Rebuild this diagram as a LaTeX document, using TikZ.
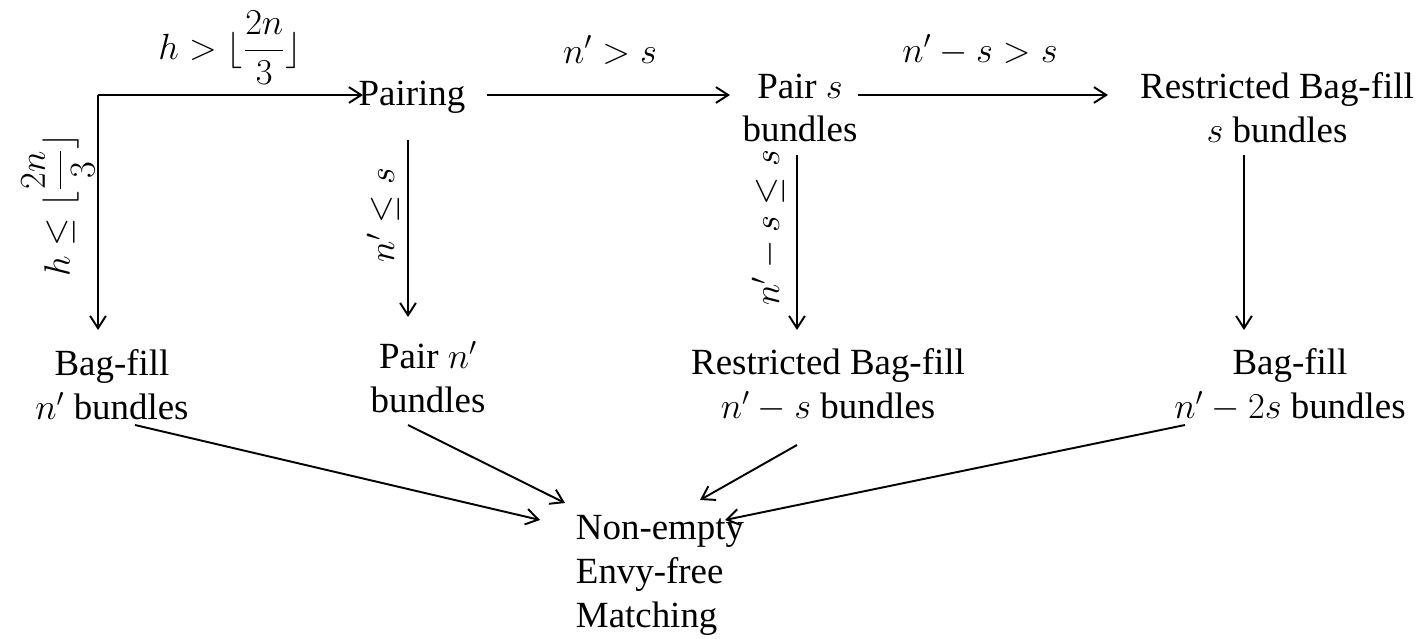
\documentclass[tikz,border=0pt]{standalone}
\usepackage{amsmath}
\usepackage{fontspec}
\setmainfont{Liberation Serif}
\usetikzlibrary{arrows.meta}
\begin{document}
\begin{tikzpicture}[x=0.02cm,y=-0.02cm,
  every node/.style={font=\fontsize{21}{25}\selectfont, inner sep=1pt},
  box/.style={align=center},
  arr/.style={line width=1.1pt,-{Straight Barb[length=7pt,width=9pt]}},
  lab/.style={font=\fontsize{21}{25}\selectfont}]
\useasboundingbox (0,0) rectangle (1418,639);
\coordinate (s) at (98,95);
\coordinate (p1) at (363,95);
\coordinate (p2) at (487,95);
\coordinate (q1) at (730,95);
\coordinate (q2) at (858,95);
\coordinate (r1) at (1108,95);
\node[box] (pairing) at (412,97) {Pairing};
\node[box] (pairs) at (800,108) {Pair $s$\\bundles};
\node[box] (rbs) at (1277,108) {Restricted Bag-fill\\$s$ bundles};
\node[box] (bfn) at (112,385) {Bag-fill\\$n'$ bundles};
\node[box] (pn) at (428,377) {Pair $n'$\\bundles};
\node[box] (rbn) at (828,385) {Restricted Bag-fill\\$n'-s$ bundles};
\node[box] (bf2) at (1290,385) {Bag-fill\\$n'-2s$ bundles};
\node[align=left] (ne) at (660,575) {Non-empty\\Envy-free\\Matching};

\draw[arr] (s) -- (p1);
\node[lab] (l1) at (230,48) {$h>\lfloor\dfrac{2n}{3}\rfloor$};
\draw[arr] (p2) -- (q1);
\node[lab] (l2) at (610,50) {$n'>s$};
\draw[arr] (q2) -- (r1);
\node[lab] (l3) at (980,50) {$n'-s>s$};
\draw[arr] (s) -- (98,330);
\node[lab,rotate=90] (l4) at (58,205) {$h\leq\lfloor\dfrac{2n}{3}\rfloor$};
\draw[arr] (408,140) -- (408,317);
\node[lab,rotate=90] (l5) at (383,215) {$n'\leq s$};
\draw[arr] (797,155) -- (797,330);
\node[lab,rotate=90] (l6) at (768,228) {$n'-s\leq s$};
\draw[arr] (1244,155) -- (1244,330);
\draw[arr] (135,425) -- (540,520);
\draw[arr] (408,425) -- (565,503);
\draw[arr] (797,445) -- (700,500);
\draw[arr] (1185,425) -- (725,520);
\end{tikzpicture}
\end{document}
